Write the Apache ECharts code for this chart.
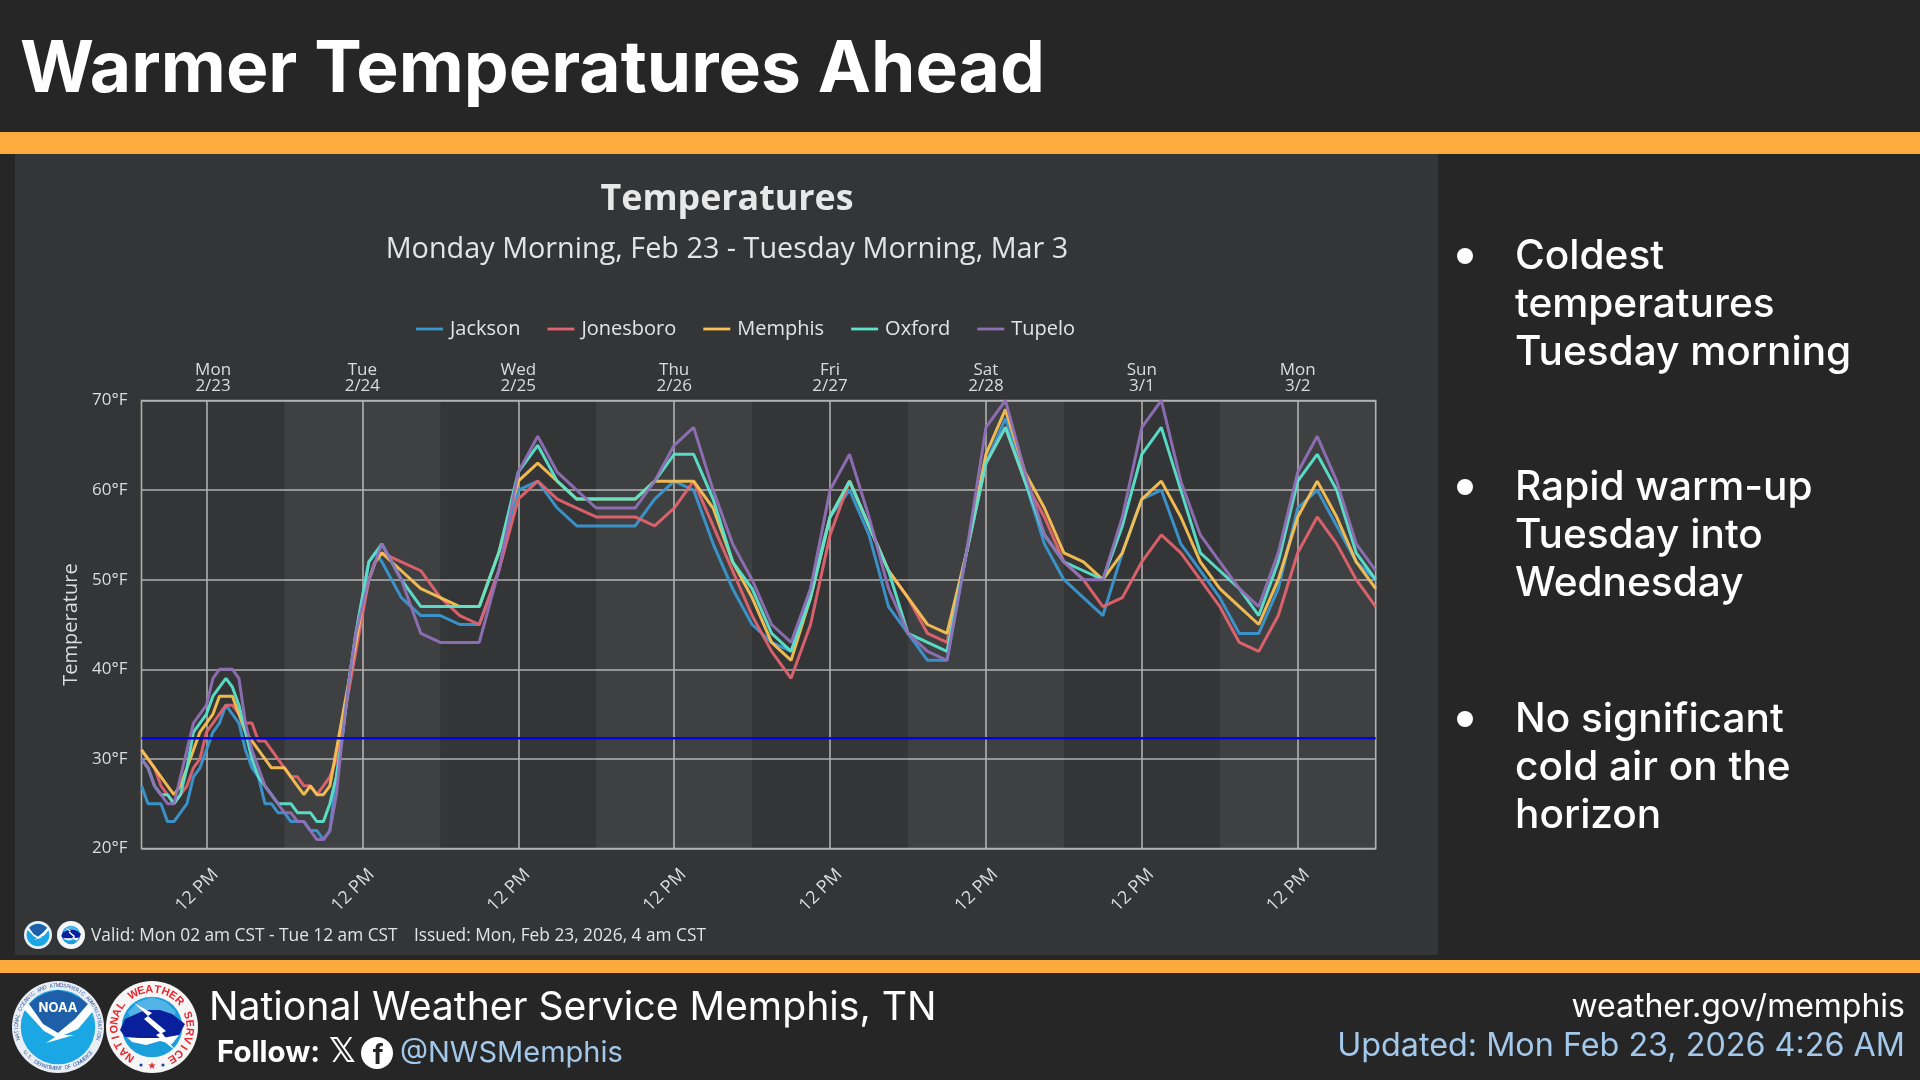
<!DOCTYPE html>
<html><head><meta charset="utf-8">
<style>html,body{margin:0;padding:0;background:#262626}#c{width:1920px;height:1080px}</style>
<script src="https://cdn.jsdelivr.net/npm/echarts@6/dist/echarts.min.js"></script>
</head><body><div id="c"></div>
<script>
const hours = [0,1,2,3,4,5,6,7,8,9,10,11,12,13,14,15,16,17,18,19,20,21,22,23,24,25,26,27,28,29,30,31,32,33,34,35,36,37,
 40,43,46,49,52,55,58,61,64,67,70,73,76,79,82,85,88,91,94,97,100,103,106,109,112,115,118,121,124,127,130,133,136,139,142,145,148,151,154,157,160,163,166,169,172,175,178,181,184,187,190];
const jackson = [27,25,25,25,23,23,24,25,28,29,31,33,34,36,35,34,31,29,28,25,25,24,24,23,23,23,22,22,21,22,28,33,39,44,48,52,53,52,
 48,46,46,45,45,51,60,61,58,56,56,56,56,59,61,60,54,49,45,43,42,49,57,60,55,47,44,41,41,53,63,68,61,54,50,48,46,53,59,60,54,51,48,44,44,49,58,60,56,52,50];
const jonesboro = [31,30,29,27,26,25,26,27,29,30,33,34,35,36,36,35,34,34,32,32,31,30,29,28,28,27,27,26,27,28,30,34,38,42,46,50,52,53,
 52,51,48,46,45,51,59,61,59,58,57,57,57,56,58,61,56,51,46,42,39,45,55,61,56,51,48,44,43,53,63,67,61,57,52,50,47,48,52,55,53,50,47,43,42,46,53,57,54,50,47];
const memphis = [31,30,29,28,27,26,27,29,31,33,34,35,37,37,37,35,33,32,31,30,29,29,29,28,27,26,27,26,26,27,31,35,39,43,47,50,52,53,
 51,49,48,47,47,53,61,63,61,59,59,59,59,61,61,61,58,52,48,43,41,48,57,61,56,51,48,45,44,53,64,69,62,58,53,52,50,53,59,61,57,52,49,47,45,50,57,61,57,52,49];
const oxford = [30,29,27,26,26,25,26,29,33,34,35,37,38,39,38,36,33,30,28,27,26,25,25,25,24,24,24,23,23,25,28,33,39,44,48,52,53,54,
 50,47,47,47,47,53,62,65,61,59,59,59,59,61,64,64,59,52,49,44,42,48,57,61,56,51,44,43,42,53,63,67,61,55,52,51,50,56,64,67,60,53,51,49,46,52,61,64,60,53,50];
const tupelo = [30,29,27,26,25,25,28,31,34,35,36,39,40,40,40,39,34,31,29,27,26,25,24,24,23,23,22,21,21,22,26,33,39,44,47,50,52,54,
 50,44,43,43,43,51,62,66,62,60,58,58,58,61,65,67,60,54,50,45,43,49,60,64,57,49,44,42,41,53,67,70,62,55,52,50,50,57,67,70,61,55,52,49,47,53,62,66,61,54,51];
const seriesNames = ['Jackson','Jonesboro','Memphis','Oxford','Tupelo'];
const seriesValues = [jackson,jonesboro,memphis,oxford,tupelo];
const seriesColors = ['#3a97d0','#e2636f','#f9c152','#5be3cb','#8f70b6'];
const noonHours = [10,34,58,82,106,130,154,178];
const dayLabels = ['Mon\n2/23','Tue\n2/24','Wed\n2/25','Thu\n2/26','Fri\n2/27','Sat\n2/28','Sun\n3/1','Mon\n3/2'];
const lightBands = [[22,46],[70,94],[118,142],[166,190]];
const freezingLine = 32.3;
const bullets = [['Coldest','temperatures','Tuesday morning'],['Rapid warm-up','Tuesday into','Wednesday'],['No significant','cold air on the','horizon']];

const T = 'Open Sans', H = 'Inter';
function rect(x,y,w,h,fill,z){return {type:'rect',silent:true,z:z||-10,shape:{x,y,width:w,height:h},style:{fill}}}
function txt(x,y,text,font,fill,align,z){return {type:'text',silent:true,z:z||20,x,y,style:{text,font,fill,align:align||'left',verticalAlign:'middle'}}}
function circ(cx,cy,r,fill,z){return {type:'circle',silent:true,z:z||15,shape:{cx,cy,r},style:{fill}}}
function poly(points,fill,z){return {type:'polygon',silent:true,z:z||16,shape:{points},style:{fill}}}
function arcText(cx,cy,R,str,from,to,font,fill){
 const out=[];const n=str.length;
 for(let i=0;i<n;i++){
  const deg=from+(to-from)*(n>1?i/(n-1):0),th=deg*Math.PI/180;
  if(str[i]===' ')continue;
  const flip=to<from?Math.PI:0;
  out.push({type:'text',silent:true,z:21,x:cx+R*Math.sin(th),y:cy-R*Math.cos(th),rotation:-th+flip,
   style:{text:str[i],font,fill,align:'center',verticalAlign:'middle'}});
 }
 return out;
}
function noaa(cx,cy,r,detail){const s=r/46;const p=a=>a.map(q=>[cx+q[0]*s,cy+q[1]*s]);const parts=[
 circ(cx,cy,r,'#e9eef4'),circ(cx,cy,r*0.81,'#1aa7e4',16),
 poly(p([[-29,-23],[-22,-29],[-12,-34],[0,-37],[12,-34],[22,-29],[30,-23],[17,-8],[0,6],[-15,-3]]),'#1f5ea8',17),
 poly(p([[-36,-20],[-29,-23],[-15,-3],[0,6],[17,-8],[30,-23],[36,-17],[20,2],[6,8],[16,8],[-12,16],[-3,10],[-14,4]]),'#ffffff',18)];
 if(detail){parts.push(txt(cx,cy-19,'NOAA','bold 13px '+H,'#ffffff','center'));
  parts.push(...arcText(cx,cy,41.5,'NATIONAL OCEANIC AND ATMOSPHERIC ADMINISTRATION',-106,106,'5.2px '+H,'#3a5f9f'));
  parts.push(...arcText(cx,cy,41.5,'U.S. DEPARTMENT OF COMMERCE',-128+360,128,'5.2px '+H,'#3a5f9f'));}
 return parts;}
function nws(cx,cy,r,detail){const s=r/46;const p=a=>a.map(q=>[cx+q[0]*s,cy+q[1]*s]);const parts=[
 circ(cx,cy,r,'#f6f6f6'),circ(cx,cy,r*0.66,'#1b9fdc',16),
 poly(p([[-24,-15],[-14,-25],[0,-30],[14,-25],[24,-15],[20,-6],[-20,-6]]),'#52b3e6',17),
 poly(p([[-27,8],[27,8],[20,17],[8,14],[-6,18],[-20,15]]),'#ffffff',17),
 poly(p([[-32,3],[-27,-8],[-18,-12],[-7,-17],[8,-17],[20,-13],[33,-3],[27,8],[10,11],[-13,11],[-27,10]]),'#0a1f9c',18),
 poly(p([[-18,-24],[0,-14],[-4,-11],[14,4],[10,6],[24,24],[4,8],[8,6],[-8,-8],[-4,-11]]),'#ffffff',19)];
 if(detail){parts.push(...arcText(cx,cy,37.5,'NATIONAL WEATHER SERVICE',-144,148,'bold 11px Liberation Sans','#e8262d'));
  parts.push(txt(cx,cy+39,'★','10px DejaVu Sans','#e8262d','center'),circ(cx-11,cy+38,1.6,'#1f3fa8',21),circ(cx+11,cy+38,1.6,'#1f3fa8',21));}
 return parts;}

const graphics = [
 rect(0,0,1920,1080,'#262626',-20),
 rect(0,132,1920,22,'#fdab3d',-9),
 rect(15,154,1423,801,'#343536',-9),
 rect(0,960,1920,13,'#fdab3d',-9),
 txt(20,71,'Warmer Temperatures Ahead','bold 71.3px '+H,'#ffffff'),
 txt(91,936,'Valid: Mon 02 am CST - Tue 12 am CST',"17.3px '"+T+"'",'#e4e4e4'),
 txt(414,936,'Issued: Mon, Feb 23, 2026, 4 am CST',"17.3px '"+T+"'",'#e4e4e4'),
 txt(209,1008,'National Weather Service Memphis, TN','39.2px '+H,'#ffffff'),
 txt(217,1053,'Follow:','bold 29.5px '+H,'#ffffff'),
 txt(329,1053,'𝕏','bold 33px DejaVu Sans','#ffffff'),
 circ(377,1053,16,'#ffffff'),
 txt(378,1056,'f','bold 27px '+H,'#262626','center'),
 txt(400,1053,'@NWSMemphis','29px '+H,'#a3c8ea'),
 txt(1905,1007,'weather.gov/memphis','32px '+H,'#ffffff','right'),
 txt(1905,1046,'Updated: Mon Feb 23, 2026 4:26 AM','32.3px '+H,'#a3c8ea','right'),
 ...noaa(58,1027,46,true),...nws(152,1027,46,true),...noaa(38,935,14,false),...nws(71,935,14,false)
];
const blockY = [257,488,720];
bullets.forEach((b,i)=>{
 graphics.push(circ(1465,blockY[i]-1,8,'#ffffff'));
 b.forEach((line,j)=>graphics.push(txt(1515,blockY[i]+j*47.7,line,'500 40.6px '+H,'#ffffff')));
});

const series = seriesNames.map((name,i)=>({
 name,type:'line',symbol:'none',smooth:false,z:3+i,
 lineStyle:{color:seriesColors[i],width:3,opacity:0.95},itemStyle:{color:seriesColors[i]},
 data:hours.map((h,k)=>[h,seriesValues[i][k]]),
 markArea:i===0?{silent:true,itemStyle:{color:'rgba(255,255,255,0.055)'},data:lightBands.map(b=>[{xAxis:b[0]},{xAxis:b[1]}])}:undefined,
}));
series.push({name:'freezing',type:'line',symbol:'none',z:10,
 lineStyle:{color:'#0303e6',width:2.4},data:[[0,freezingLine],[190,freezingLine]]});

const chart = echarts.init(document.getElementById('c'),null,{renderer:'canvas'});
chart.setOption({
 animation:false,backgroundColor:'#262626',
 title:[
  {text:'Temperatures',left:722,top:177,textAlign:'center',textStyle:{color:'#e8e8e8',fontFamily:T,fontWeight:'bold',fontSize:35.8}},
  {text:'Monday Morning, Feb 23 - Tuesday Morning, Mar 3',left:722,top:230,textAlign:'center',textStyle:{color:'#e4e4e4',fontFamily:T,fontWeight:'normal',fontSize:28.8}}
 ],
 legend:{data:seriesNames,left:411,top:314,itemWidth:27,itemHeight:14,itemGap:27,icon:'path://M0 6 H27 V8.8 H0 Z',
  textStyle:{color:'#e4e4e4',fontFamily:T,fontSize:20,padding:[0,0,0,2]}},
 grid:{left:141.5,right:1920-1375.7,top:400.5,height:448,show:true,backgroundColor:'#343536',borderColor:'#b0b0b0',borderWidth:1.6},
 xAxis:[
  {type:'value',min:0,max:190,position:'bottom',axisLine:{show:false},axisTick:{show:false,customValues:noonHours},
   splitLine:{show:true,lineStyle:{color:'#b0b0b0',width:1.6}},
   axisLabel:{customValues:noonHours,rotate:45,margin:14,lineHeight:26,verticalAlign:'top',color:'#dcdcdc',fontFamily:T,fontSize:18,formatter:()=>'12 PM',showMinLabel:true,showMaxLabel:true}},
  {type:'value',min:0,max:190,position:'top',axisLine:{show:false},axisTick:{show:false,customValues:noonHours},splitLine:{show:false},
   axisLabel:{customValues:noonHours,margin:6,color:'#dcdcdc',fontFamily:T,fontSize:17,lineHeight:16,
    formatter:v=>{const i=noonHours.indexOf(v);const l=dayLabels[i];return i===0?l.split('\n').map(s=>'\u00a0\u00a0\u00a0'+s).join('\n'):l;}}}
 ],
 yAxis:{type:'value',min:20,max:70,interval:10,name:'Temperature',nameLocation:'middle',nameGap:56,nameRotate:90,
  nameTextStyle:{color:'#dcdcdc',fontFamily:T,fontSize:20},
  axisLine:{show:false},axisTick:{show:false},splitLine:{lineStyle:{color:'#b0b0b0',width:1.6}},
  axisLabel:{margin:14,color:'#dcdcdc',fontFamily:T,fontSize:17,formatter:'{value}°F'}},
 series,
 graphic:{elements:graphics}
});
</script></body></html>
